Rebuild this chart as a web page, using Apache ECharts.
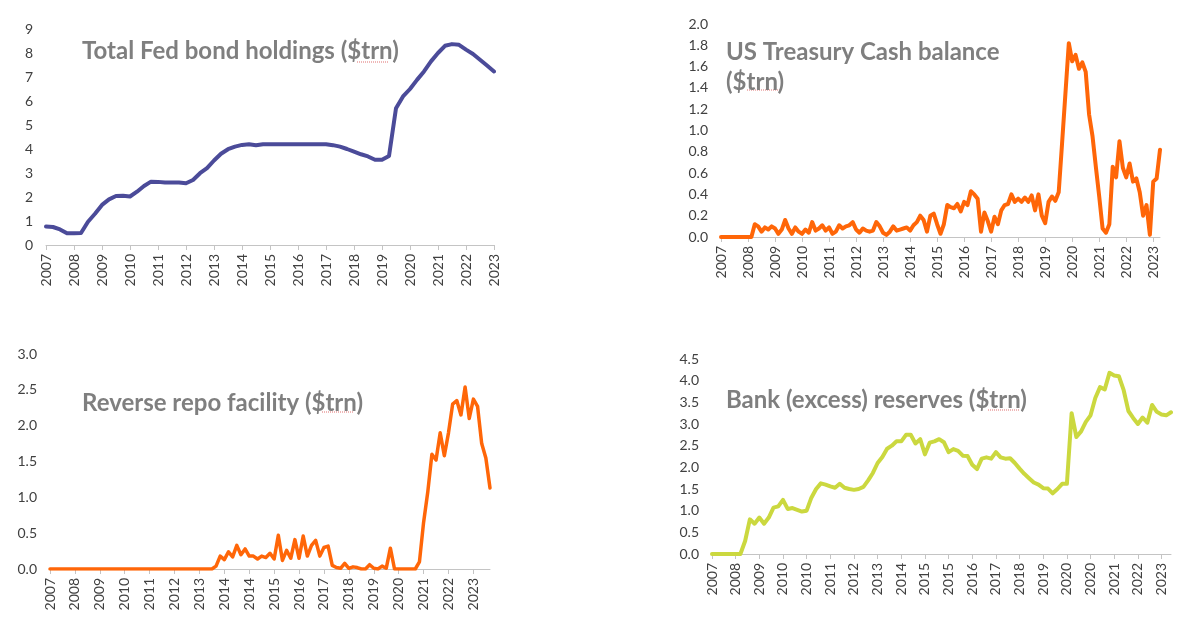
<!DOCTYPE html>
<html>
<head>
<meta charset="utf-8">
<script src="https://cdn.jsdelivr.net/npm/echarts@6/dist/echarts.min.js"></script>
<style>
  html, body { margin: 0; padding: 0; background: #ffffff; }
  #chart { width: 1200px; height: 625px; }
</style>
</head>
<body>
<div id="chart"></div>
<script>
// tick labels along each x axis (one per tick)
const fedTicks = ['2007','2008','2009','2010','2011','2012','2013','2014','2015','2016','2017','2018','2019','2020','2021','2022','2023']
const cashTicks = ['2007','2008','2009','2010','2011','2012','2013','2014','2015','2016','2017','2018','2019','2020','2021','2022','2023']
const repoTicks = ['2007','2008','2009','2010','2011','2012','2013','2014','2014','2015','2016','2017','2018','2019','2020','2021','2022','2023']
const reserveTicks = ['2007','2008','2009','2010','2010','2011','2012','2013','2014','2015','2015','2016','2017','2018','2019','2020','2020','2021','2022','2023']

// Total Fed bond holdings, $trn, 4 points per tick
const fedHoldings = [
  0.77, 0.75, 0.65, 0.49,
  0.49, 0.50, 0.97, 1.30,
  1.67, 1.90, 2.04, 2.05,
  2.02, 2.22, 2.46, 2.64,
  2.63, 2.60, 2.60, 2.60,
  2.57, 2.71, 2.99, 3.20,
  3.52, 3.80, 3.99, 4.10,
  4.17, 4.20, 4.16, 4.20,
  4.20, 4.20, 4.20, 4.20,
  4.20, 4.20, 4.20, 4.20,
  4.20, 4.16, 4.10, 4.00,
  3.89, 3.78, 3.69, 3.55,
  3.55, 3.71, 5.70, 6.19,
  6.50, 6.88, 7.23, 7.65,
  8.00, 8.30, 8.37, 8.34,
  8.14, 7.96, 7.72, 7.48,
  7.23
]

// US Treasury cash balance, $trn, 8 points per tick
const treasuryCash = [
  0, 0, 0, 0, 0, 0, 0, 0,
  0, 0, 0.12, 0.10, 0.05, 0.09, 0.07, 0.10,
  0.08, 0.03, 0.07, 0.16, 0.08, 0.03, 0.09, 0.05,
  0.03, 0.07, 0.04, 0.14, 0.06, 0.08, 0.11, 0.06,
  0.09, 0.03, 0.05, 0.11, 0.08, 0.10, 0.11, 0.14,
  0.07, 0.04, 0.08, 0.06, 0.05, 0.06, 0.14, 0.10,
  0.04, 0.02, 0.05, 0.10, 0.06, 0.07, 0.08, 0.09,
  0.06, 0.11, 0.14, 0.20, 0.16, 0.05, 0.20, 0.22,
  0.12, 0.03, 0.12, 0.30, 0.28, 0.27, 0.31, 0.24,
  0.33, 0.30, 0.43, 0.40, 0.36, 0.05, 0.23, 0.15,
  0.05, 0.19, 0.12, 0.25, 0.30, 0.31, 0.40, 0.33,
  0.36, 0.33, 0.37, 0.33, 0.39, 0.25, 0.40, 0.20,
  0.13, 0.33, 0.38, 0.34, 0.42, 0.88, 1.35, 1.82,
  1.65, 1.71, 1.58, 1.64, 1.55, 1.15, 0.95, 0.66,
  0.38, 0.08, 0.04, 0.12, 0.66, 0.56, 0.90, 0.65,
  0.56, 0.69, 0.52, 0.55, 0.42, 0.20, 0.30, 0.02,
  0.52, 0.55, 0.82
]

// Reverse repo facility, $trn, 6 points per tick
const reverseRepo = [
  0, 0, 0, 0, 0, 0, 0, 0, 0, 0,
  0, 0, 0, 0, 0, 0, 0, 0, 0, 0,
  0, 0, 0, 0, 0, 0, 0, 0, 0, 0,
  0, 0, 0, 0, 0, 0, 0, 0, 0, 0,
  0.04, 0.18, 0.13, 0.24, 0.17, 0.33, 0.20, 0.28, 0.18, 0.18,
  0.14, 0.18, 0.16, 0.22, 0.14, 0.47, 0.12, 0.26, 0.15, 0.41,
  0.15, 0.46, 0.18, 0.33, 0.40, 0.18, 0.30, 0.32, 0.05, 0.02,
  0.01, 0.08, 0.01, 0.03, 0.02, 0, 0, 0.06, 0.01, 0,
  0.04, 0.01, 0.29, 0, 0, 0, 0, 0, 0, 0.10,
  0.65, 1.07, 1.60, 1.52, 1.90, 1.58, 1.90, 2.30, 2.35, 2.15,
  2.54, 2.10, 2.37, 2.27, 1.75, 1.55, 1.13
]

// Bank (excess) reserves, $trn, 5 points per tick
const bankReserves = [
  0, 0, 0, 0, 0, 0, 0, 0.30, 0.80, 0.70,
  0.84, 0.70, 0.84, 1.07, 1.10, 1.25, 1.04, 1.06, 1.02, 0.98,
  1.00, 1.30, 1.50, 1.63, 1.60, 1.56, 1.53, 1.62, 1.53, 1.50,
  1.48, 1.50, 1.55, 1.70, 1.87, 2.10, 2.24, 2.43, 2.50, 2.60,
  2.60, 2.75, 2.75, 2.55, 2.65, 2.30, 2.57, 2.60, 2.65, 2.58,
  2.35, 2.42, 2.38, 2.27, 2.26, 2.06, 1.96, 2.20, 2.23, 2.20,
  2.35, 2.23, 2.20, 2.21, 2.10, 1.97, 1.85, 1.75, 1.65, 1.60,
  1.52, 1.51, 1.40, 1.50, 1.62, 1.62, 3.25, 2.70, 2.83, 3.05,
  3.20, 3.60, 3.85, 3.80, 4.18, 4.12, 4.10, 3.78, 3.30, 3.14,
  3.00, 3.15, 3.03, 3.44, 3.28, 3.22, 3.20, 3.27
]

const labelFont = { fontFamily: 'Lato', fontSize: 14, color: '#404040' }
const titleFont = { fontFamily: 'Lato', fontWeight: 'bold', fontSize: 24, color: '#7f7f7f', lineHeight: 30 }

// category names: tick label on every k-th point, blank in between
function cats(values, ticks, k) {
  return values.map((v, i) => (i % k === 0 ? ticks[i / k] || '' : ''))
}

function xAxis(idx, values, ticks, k) {
  const every = i => i % k === 0
  return {
    type: 'category',
    gridIndex: idx,
    boundaryGap: false,
    data: cats(values, ticks, k),
    axisLine: { lineStyle: { color: '#c4c4c4', width: 1 } },
    axisTick: { show: true, length: 5, interval: every, lineStyle: { color: '#c4c4c4' } },
    axisLabel: Object.assign({ rotate: 90, margin: 9, interval: every }, labelFont),
    splitLine: { show: false }
  }
}

function yAxis(idx, max, interval, digits) {
  return {
    type: 'value',
    gridIndex: idx,
    min: 0,
    max: max,
    interval: interval,
    axisLine: { show: false },
    axisTick: { show: false },
    splitLine: { show: false },
    axisLabel: Object.assign({ margin: 13, formatter: v => v.toFixed(digits) }, labelFont)
  }
}

function line(idx, values, color, width) {
  return {
    type: 'line',
    xAxisIndex: idx,
    yAxisIndex: idx,
    data: values,
    showSymbol: false,
    lineStyle: { color: color, width: width, join: 'round', cap: 'round' },
    itemStyle: { color: color }
  }
}

// little spell-check squiggle under "trn" in each title
function squiggle(x, y, w) {
  return {
    type: 'line',
    shape: { x1: x, y1: y, x2: x + w, y2: y },
    style: { stroke: '#e07070', lineWidth: 1, lineDash: [1, 1] },
    silent: true
  }
}

const chart = echarts.init(document.getElementById('chart'))
chart.setOption({
  animation: false,
  backgroundColor: '#ffffff',
  title: [
    { text: 'Total Fed bond holdings ($trn)', left: 82, top: 36, padding: 0, textStyle: titleFont },
    { text: 'US Treasury Cash balance\n($trn)', left: 726, top: 37, padding: 0, textStyle: titleFont },
    { text: 'Reverse repo facility ($trn)', left: 82, top: 388, padding: 0, textStyle: titleFont },
    { text: 'Bank (excess) reserves ($trn)', left: 726, top: 385, padding: 0, textStyle: titleFont }
  ],
  graphic: [
    squiggle(357, 62, 31),
    squiggle(747, 90, 33),
    squiggle(322, 412, 31),
    squiggle(988, 410, 32)
  ],
  grid: [
    { left: 46, top: 29, width: 448, height: 216 },
    { left: 721, top: 24, width: 439, height: 213 },
    { left: 50, top: 354, width: 440, height: 215 },
    { left: 712, top: 359, width: 459, height: 195 }
  ],
  xAxis: [
    xAxis(0, fedHoldings, fedTicks, 4),
    xAxis(1, treasuryCash, cashTicks, 8),
    xAxis(2, reverseRepo, repoTicks, 6),
    xAxis(3, bankReserves, reserveTicks, 5)
  ],
  yAxis: [
    yAxis(0, 9, 1, 0),
    yAxis(1, 2, 0.2, 1),
    yAxis(2, 3, 0.5, 1),
    yAxis(3, 4.5, 0.5, 1)
  ],
  series: [
    line(0, fedHoldings, '#4b4b99', 4),
    line(1, treasuryCash, '#ff6608', 4),
    line(2, reverseRepo, '#ff6608', 3.5),
    line(3, bankReserves, '#cbd83f', 4)
  ]
})
</script>
</body>
</html>
